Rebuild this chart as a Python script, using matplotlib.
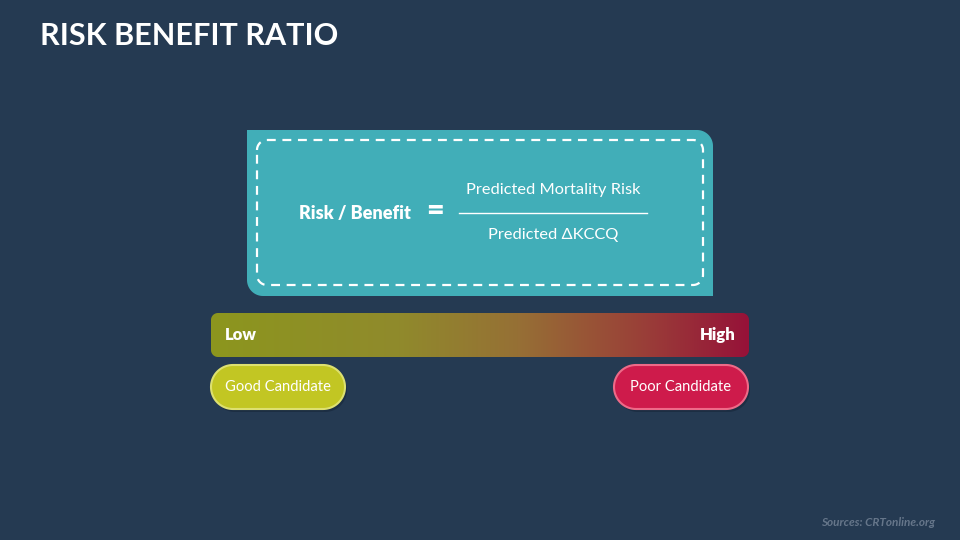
import matplotlib
matplotlib.use("Agg")
import matplotlib.pyplot as plt
import numpy as np
from matplotlib.patches import PathPatch
from matplotlib.path import Path
from matplotlib.colors import LinearSegmentedColormap

plt.rcParams['font.family'] = ['Lato', 'DejaVu Sans']

# texts
title = "RISK BENEFIT RATIO"
lhs_label = "Risk / Benefit"
numerator = "Predicted Mortality Risk"
denominator = "Predicted \u0394KCCQ"
scale_ends = ["Low", "High"]
candidates = ["Good Candidate", "Poor Candidate"]
source = "Sources: CRTonline.org"

# colours
bg_color = "#253A52"
box_color = "#41AEB8"
gradient_pos = [0.0, 0.35, 0.57, 0.8, 1.0]
gradient_stops = ["#8C961E", "#908A2C", "#967035", "#9A4038", "#961238"]
pill_colors = ["#C2C623", "#CE1B4B"]
pill_edges = ["#DDE070", "#EE6A88"]


def rounded_path(x0, y0, x1, y1, radii):
    # radii: top-left, top-right, bottom-right, bottom-left (y grows downward)
    tl, tr, br, bl = radii
    pts = []

    def arc(cx, cy, r, a0, a1):
        if r == 0:
            pts.append((cx, cy))
            return
        for a in np.linspace(a0, a1, 24):
            pts.append((cx + r * np.cos(a), cy + r * np.sin(a)))

    arc(x0 + tl, y0 + tl, tl, np.pi, 1.5 * np.pi)
    arc(x1 - tr, y0 + tr, tr, 1.5 * np.pi, 2 * np.pi)
    arc(x1 - br, y1 - br, br, 0, 0.5 * np.pi)
    arc(x0 + bl, y1 - bl, bl, 0.5 * np.pi, np.pi)
    pts.append(pts[0])
    return Path(pts, closed=True)


fig = plt.figure(figsize=(9.6, 5.4), dpi=100)
fig.patch.set_facecolor(bg_color)
ax = fig.add_axes([0, 0, 1, 1])
ax.set_xlim(0, 960)
ax.set_ylim(540, 0)
ax.axis('off')
ax.set_facecolor(bg_color)

ax.text(40, 36, title, color="white", fontsize=22, fontweight="bold",
        va="center", ha="left")

# teal formula box
box = PathPatch(rounded_path(247, 130, 713, 296, [0, 16, 0, 16]),
                facecolor=box_color, edgecolor="none")
ax.add_patch(box)
inner = PathPatch(rounded_path(257, 140, 703, 285, [10, 10, 10, 10]),
                  facecolor="none", edgecolor="white", linewidth=1.6,
                  linestyle=(0, (4, 3)))
ax.add_patch(inner)

ax.text(355, 214, lhs_label, color="white", fontsize=13, fontweight="heavy",
        ha="center", va="center")
ax.text(435, 211, "=", color="white", fontsize=22, fontweight="heavy",
        ha="center", va="center")
ax.text(553, 190, numerator, color="white", fontsize=11.8, ha="center", va="center")
ax.plot([459, 647], [213, 213], color="white", linewidth=1)
ax.text(553, 235, denominator, color="white", fontsize=11.8, ha="center", va="center")

# gradient bar
cmap = LinearSegmentedColormap.from_list("rb", list(zip(gradient_pos, gradient_stops)))
grad = np.linspace(0, 1, 256).reshape(1, -1)
bar_x0, bar_x1, bar_y0, bar_y1 = 211, 749, 313, 357
im = ax.imshow(grad, cmap=cmap, aspect="auto",
               extent=(bar_x0, bar_x1, bar_y1, bar_y0), zorder=2)
clip = PathPatch(rounded_path(bar_x0, bar_y0, bar_x1, bar_y1, [7, 7, 7, 7]),
                 facecolor="none", edgecolor="none")
ax.add_patch(clip)
im.set_clip_path(clip)
ax.set_xlim(0, 960)
ax.set_ylim(540, 0)

ax.text(225, 335, scale_ends[0], color="white", fontsize=12, fontweight="heavy",
        ha="left", va="center", zorder=3)
ax.text(736, 335, scale_ends[1], color="white", fontsize=12, fontweight="heavy",
        ha="right", va="center", zorder=3)

# candidate pills
pill_x = [211, 614]
for px, label, fc, ec in zip(pill_x, candidates, pill_colors, pill_edges):
    shadow = PathPatch(rounded_path(px + 2, 368, px + 136, 412, [22, 22, 22, 22]),
                       facecolor="#16263A", edgecolor="none", alpha=0.6, zorder=2)
    ax.add_patch(shadow)
    pill = PathPatch(rounded_path(px, 365, px + 134, 409, [22, 22, 22, 22]),
                     facecolor=fc, edgecolor=ec, linewidth=1.5, zorder=3)
    ax.add_patch(pill)
    ax.text(px + 67, 387, label, color="white", fontsize=10.6, ha="center",
            va="center", zorder=4)

ax.text(935, 522, source, color="#66768A", fontsize=8.5, fontweight="bold",
        fontstyle="italic", ha="right", va="center")

fig.savefig("out.png", dpi=100, facecolor=bg_color)
